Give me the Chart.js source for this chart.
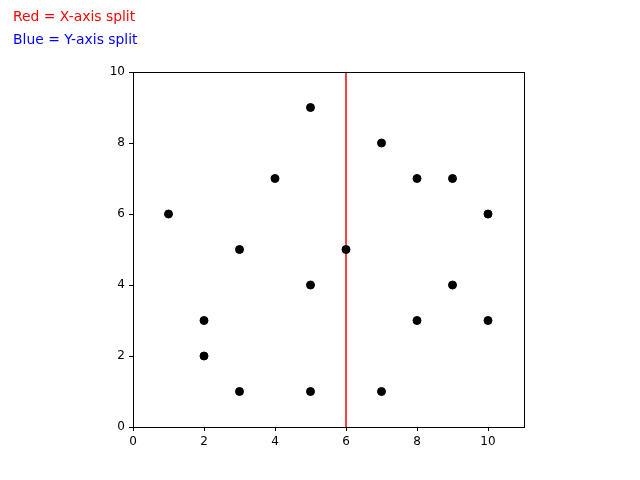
<!DOCTYPE html>
<html>
<head>
<meta charset="utf-8">
<script src="https://cdn.jsdelivr.net/npm/chart.js@4"></script>
<style>
  html, body { margin: 0; padding: 0; background: #fff; }
  #wrap { position: relative; width: 640px; height: 480px; }
  .note { position: absolute; left: 13px; font-family: "DejaVu Sans", sans-serif; font-size: 13.9px; white-space: nowrap; }
</style>
</head>
<body>
<div id="wrap">
  <canvas id="myChart" width="640" height="480"></canvas>
  <div class="note" style="top:8px;color:#ff0000;">Red = X-axis split</div>
  <div class="note" style="top:31px;color:#0000ff;">Blue = Y-axis split</div>
</div>
<script>
const xValues = [1, 2, 2, 3, 3, 4, 5, 5, 5, 6, 7, 7, 8, 8, 9, 9, 10, 10];
const yValues = [6, 3, 2, 5, 1, 7, 9, 4, 1, 5, 8, 1, 7, 3, 7, 4, 6, 3];
const splitX = 6;
const xTicks = [0, 2, 4, 6, 8, 10];
const yTicks = [0, 2, 4, 6, 8, 10];

// frame round the plot area, like matplotlib spines
const boxPlugin = {
  id: 'box',
  afterDraw(chart) {
    const a = chart.chartArea;
    const ctx = chart.ctx;
    ctx.save();
    ctx.strokeStyle = '#000';
    ctx.lineWidth = 1;
    ctx.strokeRect(Math.round(a.left) + 0.5, Math.round(a.top) + 0.5,
      Math.round(a.right - a.left), Math.round(a.bottom - a.top));
    ctx.restore();
  }
};

const ctx = document.getElementById('myChart').getContext('2d');
new Chart(ctx, {
  type: 'scatter',
  data: {
    datasets: [
      {
        type: 'line',
        data: [{ x: splitX, y: 0 }, { x: splitX, y: 10 }],
        borderColor: '#ff0000',
        borderWidth: 1.5,
        pointRadius: 0,
        order: 2
      },
      {
        data: xValues.map((x, i) => ({ x: x, y: yValues[i] })),
        backgroundColor: '#000',
        borderColor: '#000',
        pointRadius: 4,
        order: 1
      }
    ]
  },
  options: {
    responsive: false,
    animation: false,
    layout: { padding: { left: 93, right: 116.5, top: 72, bottom: 0 } },
    plugins: { legend: { display: false }, tooltip: { enabled: false } },
    scales: {
      x: {
        type: 'linear',
        min: 0,
        max: 11,
        afterFit(s) { s.height = 53; },
        afterBuildTicks(s) { s.ticks = xTicks.map(v => ({ value: v })); },
        border: { display: false },
        grid: { drawOnChartArea: false, color: '#000', tickLength: 4 },
        ticks: { color: '#000', font: { family: 'DejaVu Sans', size: 12 }, padding: 4, maxRotation: 0 }
      },
      y: {
        type: 'linear',
        min: 0,
        max: 10,
        afterFit(s) { s.width = 40; },
        afterBuildTicks(s) { s.ticks = yTicks.map(v => ({ value: v })); },
        border: { display: false },
        grid: { drawOnChartArea: false, color: '#000', tickLength: 4 },
        ticks: { color: '#000', font: { family: 'DejaVu Sans', size: 12 }, padding: 4 }
      }
    }
  },
  plugins: [boxPlugin]
});
</script>
</body>
</html>
